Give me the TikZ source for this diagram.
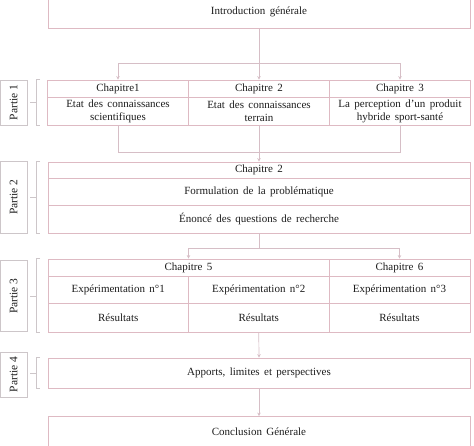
\documentclass[tikz,border=0pt]{standalone}
\usepackage{fontspec}
\setmainfont{Liberation Serif}
\newfontfamily\dfont[WordSpace=1.6]{Liberation Serif}
\usetikzlibrary{arrows.meta}
\definecolor{boxcol}{RGB}{222,186,195}
\definecolor{arrcol}{RGB}{214,190,198}
\definecolor{labcol}{RGB}{205,198,201}
\definecolor{txtcol}{RGB}{28,28,28}
\tikzset{
  cell/.style={draw=boxcol, line width=0.8pt, inner sep=0pt, text=txtcol, align=center,
    font=\dfont\fontsize{11}{13}\selectfont},
  lab/.style={draw=labcol, line width=0.8pt, inner sep=0pt, text=txtcol,
    font=\fontsize{11.5}{12}\selectfont},
  conn/.style={draw=arrcol, line width=0.7pt},
  arr/.style={conn, -{Stealth[length=3.5pt,width=3.5pt]}},
  brk/.style={draw=labcol, line width=0.7pt}
}
\begin{document}
\begin{tikzpicture}[x=1pt,y=-1pt]
\useasboundingbox (0,0) rectangle (474,445);
\clip (0,0) rectangle (474,445);
% Introduction
\node[cell, minimum width=422, minimum height=34] (intro) at (259,11.5) {\raisebox{-4pt}{Introduction générale}};
% Partie 1 table
\node[cell, minimum width=141, minimum height=17] (c1h) at (118,88.5) {Chapitre1};
\node[cell, minimum width=141, minimum height=17] (c2h) at (259,88.5) {Chapitre 2};
\node[cell, minimum width=141, minimum height=17] (c3h) at (400,88.5) {Chapitre 3};
\node[cell, minimum width=141, minimum height=28] (c1b) at (118,111) {Etat des connaissances\\scientifiques};
\node[cell, minimum width=141, minimum height=28] (c2b) at (259,111) {Etat des connaissances\\terrain};
\node[cell, minimum width=141, minimum height=28] (c3b) at (400,111) {La perception d’un produit\\hybride sport-santé};
% Partie 2 table
\node[cell, minimum width=422, minimum height=16] (p2h) at (259,170) {Chapitre 2};
\node[cell, minimum width=422, minimum height=27] (p2a) at (259,191.5) {Formulation de la problématique};
\node[cell, minimum width=422, minimum height=28] (p2b) at (259,219) {Énoncé des questions de recherche};
% Partie 3 table
\node[cell, minimum width=281, minimum height=17] (c5h) at (188.5,267.5) {Chapitre 5};
\node[cell, minimum width=141, minimum height=17] (c6h) at (399.5,267.5) {Chapitre 6};
\node[cell, minimum width=140.5, minimum height=27] (e1) at (118.25,289.5) {Expérimentation n°1};
\node[cell, minimum width=140.5, minimum height=27] (e2) at (258.75,289.5) {Expérimentation n°2};
\node[cell, minimum width=141, minimum height=27] (e3) at (399.5,289.5) {Expérimentation n°3};
\node[cell, minimum width=140.5, minimum height=29] (r1) at (118.25,317.5) {Résultats};
\node[cell, minimum width=140.5, minimum height=29] (r2) at (258.75,317.5) {Résultats};
\node[cell, minimum width=141, minimum height=29] (r3) at (399.5,317.5) {Résultats};
% Partie 4
\node[cell, minimum width=422, minimum height=30] (p4) at (259,373) {Apports, limites et perspectives};
% Conclusion
\node[cell, minimum width=422, minimum height=34] (concl) at (259,433.5) {\raisebox{3pt}{Conclusion Générale}};
% Partie labels
\node[lab, minimum width=45, minimum height=27, rotate=90] (l1) at (13.5,102.5) {Partie 1};
\node[lab, minimum width=72, minimum height=27, rotate=90] (l2) at (13.5,197) {Partie 2};
\node[lab, minimum width=71, minimum height=27, rotate=90] (l3) at (13.5,296) {Partie 3};
\node[lab, minimum width=45, minimum height=27, rotate=90] (l4) at (13.5,374.5) {Partie 4};
% brackets
\coordinate (b1) at (36,102.5);
\draw[brk] ([xshift=4]b1|-c1h.north) -| (b1|-c1b.south) -- ++(4,0);
\draw[brk] (b1) -- ++(-6,0);
\coordinate (b2) at (36,197);
\draw[brk] ([xshift=4]b2|-p2h.north) -| (b2|-p2b.south) -- ++(4,0);
\draw[brk] (b2) -- ++(-6,0);
\coordinate (b3) at (36,296);
\draw[brk] ([xshift=4]b3|-c5h.north) -| (b3|-r1.south) -- ++(4,0);
\draw[brk] (b3) -- ++(-6,0);
\coordinate (b4) at (36,373);
\draw[brk] ([xshift=4]b4|-p4.north) -| (b4|-p4.south) -- ++(4,0);
\draw[brk] (b4) -- ++(-6,0);
% connectors: intro -> chapters
\coordinate (j1) at (259,63);
\draw[conn] (intro.south) -- (j1);
\draw[arr] (j1) -| (c1h.north);
\draw[arr] (j1) -| (c3h.north);
\draw[arr] (j1) -- (c2h.north);
% chapters -> partie 2
\coordinate (j2) at (259,152);
\draw[conn] (c1b.south) |- (j2);
\draw[conn] (c3b.south) |- (j2);
\draw[conn] (c2b.south) -- (j2);
\draw[arr] (j2) -- (p2h.north);
% partie 2 -> partie 3
\coordinate (j3) at (259,248);
\draw[conn] (p2b.south) -- (j3);
\draw[arr] (j3) -| (c5h.north);
\draw[arr] (j3) -| (c6h.north);
% partie 3 -> partie 4 -> conclusion
\draw[arr] (r2.south) -- (p4.north);
\draw[arr] (p4.south) -- (concl.north);
\end{tikzpicture}
\end{document}
